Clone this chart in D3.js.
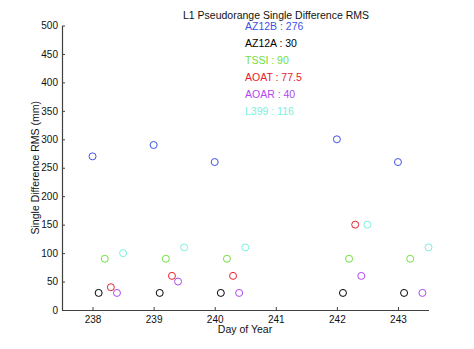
<!DOCTYPE html>
<html>
<head>
<meta charset="utf-8">
<script src="https://cdn.jsdelivr.net/npm/d3@7/dist/d3.min.js"></script>
<style>
  html, body { margin: 0; padding: 0; background: #fff; }
  svg { display: block; font-family: "Liberation Sans", Arial, Helvetica, sans-serif; }
</style>
</head>
<body>
<script>
// Days of year and per-receiver RMS values (mm); null = no data that day
const days = [238, 239, 240, 241, 242, 243];
const receivers = ["AZ12B", "AZ12A", "TSSI", "AOAT", "AOAR", "L399"];
const colors = ["#4052e4", "#000000", "#72e040", "#e8202c", "#b048f0", "#7cf0e0"];
const az12b = [270, 290, 260, null, 300, 260];
const az12a = [30, 30, 30, null, 30, 30];
const tssi  = [90, 90, 90, null, 90, 90];
const aoat  = [40, 60, 60, null, 150, null];
const aoar  = [30, 50, 30, null, 60, 30];
const l399  = [100, 110, 110, null, 150, 110];
const means = ["276", "30", "90", "77.5", "40", "116"];
const dayOffsets = [0, 0.1, 0.2, 0.3, 0.4, 0.5];
const yTicks = [0, 50, 100, 150, 200, 250, 300, 350, 400, 450, 500];

const seriesValues = [az12b, az12a, tssi, aoat, aoar, l399];

const W = 474, H = 349;
const margin = { left: 62, right: 45.5, top: 25.5, bottom: 39 };

const svg = d3.select("body").append("svg").attr("width", W).attr("height", H);

const x = d3.scaleLinear().domain([237.5, 243.5]).range([margin.left, W - margin.right]);
const y = d3.scaleLinear().domain([0, 500]).range([H - margin.bottom, margin.top]);

const axisColor = "#404040";

// Bottom axis with inward ticks
const gx = svg.append("g")
  .attr("transform", `translate(0,${y(0)})`)
  .call(d3.axisBottom(x).tickValues(days).tickFormat(d3.format("d")).tickSizeInner(-3).tickSizeOuter(0).tickPadding(6));

// Left axis with inward ticks
const gy = svg.append("g")
  .attr("transform", `translate(${x(237.5)},0)`)
  .call(d3.axisLeft(y).tickValues(yTicks).tickSizeInner(-3).tickSizeOuter(0).tickPadding(4));

[gx, gy].forEach(g => {
  g.select(".domain").attr("stroke", axisColor).attr("stroke-width", 1.2);
  g.selectAll(".tick line").attr("stroke", axisColor);
  g.selectAll(".tick text").attr("fill", "#111").attr("font-size", 10).attr("font-family", "Liberation Sans, Arial, sans-serif");
});

// Circle markers
receivers.forEach((name, i) => {
  const pts = days.map((d, j) => ({ d: d + dayOffsets[i], v: seriesValues[i][j] }))
                  .filter(p => p.v !== null);
  svg.append("g").selectAll("circle").data(pts).join("circle")
    .attr("cx", p => x(p.d))
    .attr("cy", p => y(p.v))
    .attr("r", 3.5)
    .attr("fill", "none")
    .attr("stroke", colors[i])
    .attr("stroke-width", 1);
});

// Title
svg.append("text")
  .attr("x", 276).attr("y", 19)
  .attr("text-anchor", "middle")
  .attr("font-size", 10.5)
  .attr("fill", "#111")
  .text("L1 Pseudorange Single Difference RMS");

// Receiver mean labels
receivers.forEach((name, i) => {
  svg.append("text")
    .attr("x", 245).attr("y", 30 + i * 17)
    .attr("font-size", 10.5)
    .attr("fill", colors[i])
    .text(`${name} : ${means[i]}`);
});

// Axis titles
svg.append("text")
  .attr("x", 245).attr("y", 333)
  .attr("text-anchor", "middle")
  .attr("font-size", 10.5)
  .attr("fill", "#111")
  .text("Day of Year");

svg.append("text")
  .attr("transform", `translate(39,${(y(0) + y(500)) / 2}) rotate(-90)`)
  .attr("text-anchor", "middle")
  .attr("font-size", 10.5)
  .attr("fill", "#111")
  .text("Single Difference RMS (mm)");
</script>
</body>
</html>
